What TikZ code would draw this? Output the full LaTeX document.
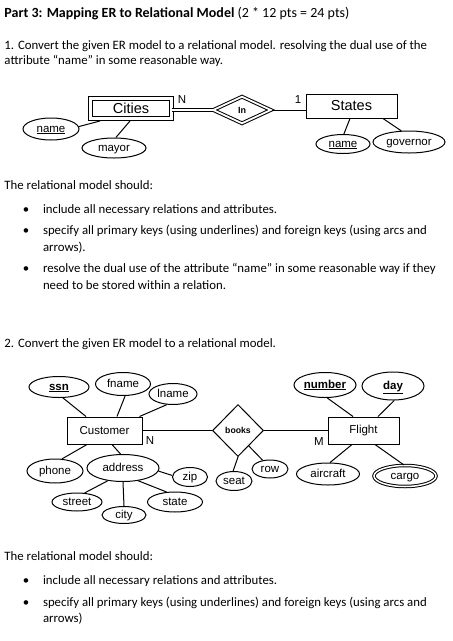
\documentclass[tikz,border=0pt]{standalone}
\usepackage{fontspec}
\setmainfont{Carlito}
\newfontfamily\erfont{Liberation Sans}
\usetikzlibrary{shapes.geometric,positioning}

\tikzset{
  entity/.style={draw, rectangle, inner sep=0pt, font=\erfont\fontsize{11.5}{12}\selectfont},
  attr/.style={draw, ellipse, inner sep=0pt, text height=7pt, text depth=1pt,
    font=\erfont\fontsize{11.5}{12}\selectfont},
  rel/.style={draw, diamond, inner sep=0pt, font=\erfont\bfseries\fontsize{8.7}{9}\selectfont},
  card/.style={inner sep=0pt, font=\erfont\fontsize{11.5}{12}\selectfont},
  txt/.style={anchor=base west, inner sep=0pt, font=\fontsize{12.8}{15}\selectfont},
  bul/.style={anchor=base, inner sep=0pt, font=\fontsize{12.8}{15}\selectfont},
}

\begin{document}
\begin{tikzpicture}[x=1pt, y=-1pt, line width=1pt]
  \useasboundingbox (0,0) rectangle (453,641);

  % question 1
  \node[txt, font=\fontsize{14}{15}\selectfont] (title) at (4,17) {\textbf{Part 3: Mapping ER to Relational Model} (2 * 12 pts = 24 pts)};
  \node[txt] (q1a) at (4,49) {1. Convert the given ER model to a relational model. resolving the dual use of the};
  \node[txt] (q1b) at (4,64) {attribute “name” in some reasonable way.};

  % ER model 1
  \node[entity, double, double distance=2.4pt, minimum width=81pt, minimum height=20pt,
    font=\erfont\fontsize{14.5}{15}\selectfont] (cities) at (131,108.5) {Cities};
  \node[rel, double, double distance=1.8pt, minimum width=58pt, minimum height=27pt,
    font=\erfont\bfseries\fontsize{9}{10}\selectfont] (in) at (242,110) {In};
  \node[entity, minimum width=91pt, minimum height=24pt,
    font=\erfont\fontsize{14.5}{15}\selectfont] (states) at (351.5,106) {States};
  \node[attr, minimum width=56pt, minimum height=22pt] (cname) at (51,129) {\underline{name}};
  \node[attr, minimum width=64pt, minimum height=20pt] (mayor) at (114,148) {mayor};
  \node[attr, minimum width=54pt, minimum height=19pt] (sname) at (343,144) {\underline{name}};
  \node[attr, minimum width=72pt, minimum height=22pt] (gov) at (409,142) {governor};
  \node[card] (n1) at (182,100) {N};
  \node[card] (one) at (298,100) {1};

  \draw[double, double distance=1.4pt] (in.west) -- (in.west -| cities.east);
  \draw (in.east) -- (in.east -| states.west);
  \draw (cname.5) -- ([xshift=-31pt,yshift=-2pt]cities.south);
  \draw (mayor.80) -- ([xshift=-1pt,yshift=-2pt]cities.south);
  \draw (sname.85) -- ([xshift=-1.5pt]states.south);
  \draw (gov.125) -- ([xshift=31.5pt]states.south);

  % rules 1
  \node[txt] (rm1) at (4,189) {The relational model should:};
  \node[bul] (d1) at (26,213) {\textbullet};
  \node[txt] (r1a) at (42.5,213) {include all necessary relations and attributes.};
  \node[bul] (d2) at (26,234.5) {\textbullet};
  \node[txt] (r2a) at (42.5,234.5) {specify all primary keys (using underlines) and foreign keys (using arcs and};
  \node[txt] (r2b) at (42.5,251) {arrows).};
  \node[bul] (d3) at (26,272.5) {\textbullet};
  \node[txt] (r3a) at (42.5,272.5) {resolve the dual use of the attribute “name” in some reasonable way if they};
  \node[txt] (r3b) at (42.5,289) {need to be stored within a relation.};

  % question 2
  \node[txt] (q2) at (4,347) {2. Convert the given ER model to a relational model.};

  % ER model 2
  \node[entity, minimum width=75pt, minimum height=27pt] (cust) at (104.5,430.5) {Customer};
  \node[rel, minimum width=51pt, minimum height=52pt] (books) at (238,430.5) {books};
  \node[entity, minimum width=71pt, minimum height=27pt] (flight) at (363.5,430.5) {Flight};
  \node[card] (n2) at (150,441) {N};
  \node[card] (m2) at (319,442) {M};

  \node[attr, minimum width=60pt, minimum height=21pt] (ssn) at (59,387) {\textbf{\underline{ssn}}};
  \node[attr, minimum width=55pt, minimum height=23pt] (fname) at (123,384) {fname};
  \node[attr, minimum width=48pt, minimum height=21pt] (lname) at (173,394) {lname};
  \node[attr, minimum width=62pt, minimum height=25pt] (number) at (325,385) {\textbf{\underline{number}}};
  \node[attr, minimum width=62pt, minimum height=28pt] (day) at (393,386) {\textbf{\underline{day}}};

  \node[attr, minimum width=56pt, minimum height=24pt] (phone) at (55,471) {phone};
  \node[attr, minimum width=72pt, minimum height=27pt] (addr) at (123,468) {address};
  \node[attr, minimum width=35pt, minimum height=19pt] (zip) at (190,477) {zip};
  \node[attr, minimum width=50pt, minimum height=18pt] (street) at (77,502) {street};
  \node[attr, minimum width=44pt, minimum height=17pt] (city) at (124,515) {city};
  \node[attr, minimum width=55pt, minimum height=20pt] (state) at (175,502) {state};
  \node[attr, minimum width=36pt, minimum height=19pt] (seat) at (234,481) {seat};
  \node[attr, minimum width=36pt, minimum height=18pt] (row) at (270,469) {row};
  \node[attr, minimum width=63pt, minimum height=22pt] (aircraft) at (328,474) {aircraft};
  \node[attr, double, double distance=1.5pt, minimum width=62pt, minimum height=21pt] (cargo) at (405,476) {cargo};

  \draw (cust) -- (books);
  \draw (books) -- (flight);
  \draw (ssn.-70) -- ([xshift=-18.5pt]cust.north);
  \draw (fname.-80) -- ([xshift=12.5pt]cust.north);
  \draw (lname.-120) -- ([xshift=35pt]cust.north);
  \draw (number.-80) -- ([xshift=-10.5pt]flight.north);
  \draw (day.-85) -- ([xshift=14.5pt]flight.north);
  \draw ([xshift=-17.5pt]cust.south) -- (phone.60);
  \draw ([xshift=7.5pt]cust.south) -- (addr.100);
  \draw (addr.-5) -- (zip.175);
  \draw (addr.-140) -- (street.50);
  \draw (addr.south) -- (city.north);
  \draw (addr.-40) -- (state.130);
  \draw (books.south) -- (seat.95);
  \draw (books.-55) -- (row.130);
  \draw ([xshift=-11.5pt]flight.south) -- (aircraft.80);
  \draw ([xshift=11.5pt]flight.south) -- (cargo.95);

  % rules 2
  \node[txt] (rm2) at (4,560.5) {The relational model should:};
  \node[bul] (d4) at (26,584) {\textbullet};
  \node[txt] (r4a) at (42.5,584) {include all necessary relations and attributes.};
  \node[bul] (d5) at (26,606) {\textbullet};
  \node[txt] (r5a) at (42.5,606) {specify all primary keys (using underlines) and foreign keys (using arcs and};
  \node[txt] (r5b) at (42.5,622) {arrows)};
\end{tikzpicture}
\end{document}
